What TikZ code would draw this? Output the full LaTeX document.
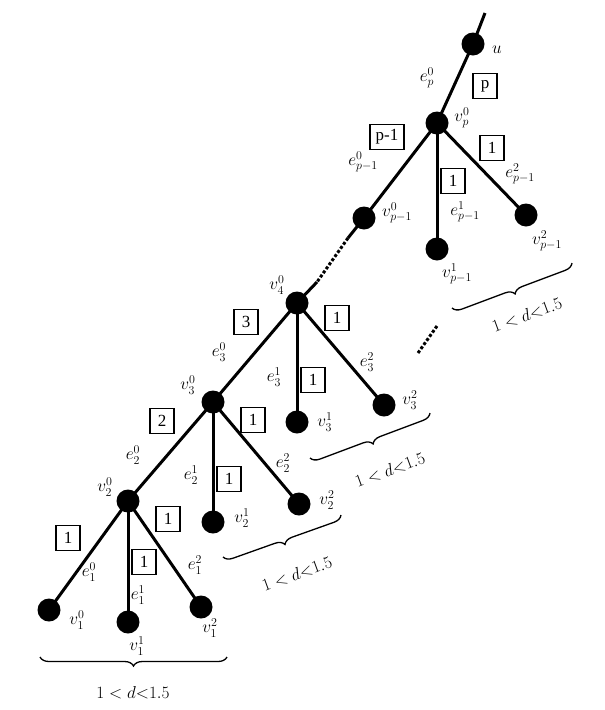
\documentclass[tikz,border=0pt]{standalone}
\usepackage{fontspec}
\setmainfont{Liberation Serif}
\usetikzlibrary{decorations.pathreplacing}
\begin{document}
\begin{tikzpicture}[x=1pt,y=-1pt,
  dot/.style={circle,fill=black,inner sep=0pt,minimum size=23pt},
  edge/.style={line width=3pt},
  wt/.style={draw,line width=1.3pt,inner sep=0pt,minimum width=24pt,minimum height=25pt,font=\fontsize{17}{17}\selectfont},
  wtw/.style={wt,minimum width=34pt},
  lab/.style={font=\fontsize{17.28}{20}\selectfont,inner sep=0pt},
  br/.style={decorate,decoration={brace,mirror,amplitude=9pt},line width=1.3pt},
  dl/.style={font=\fontsize{17.28}{20}\selectfont,inner sep=0pt}]
\useasboundingbox (0,0) rectangle (605,710);
% nodes
\coordinate (top) at (485,13);
\node[dot] (u) at (473,44) {};
\node[dot] (vp) at (437,123) {};
\node[dot] (vq0) at (364,218) {};
\node[dot] (vq1) at (437,249) {};
\node[dot] (vq2) at (526,215) {};
\node[dot] (v4) at (297,303) {};
\node[dot] (v3) at (213,402) {};
\node[dot] (v31) at (297,422) {};
\node[dot] (v32) at (384,405) {};
\node[dot] (v2) at (128,501) {};
\node[dot] (v21) at (213,522) {};
\node[dot] (v22) at (299,504) {};
\node[dot] (v10) at (49,610) {};
\node[dot] (v11) at (128,622) {};
\node[dot] (v12) at (201,607) {};
\coordinate (da) at (348,238);
\coordinate (db) at (317,282);
\coordinate (dc) at (418,353);
\coordinate (dd) at (437,326);
% edges
\draw[edge] (top) -- (u.center) -- (vp.center);
\draw[edge] (vp.center) -- (vq0.center);
\draw[edge] (vp.center) -- (vq1.center);
\draw[edge] (vp.center) -- (vq2.center);
\draw[edge] (vq0.center) -- (da);
\draw[edge,dotted] (da) -- (db);
\draw[edge] (db) -- (v4.center);
\draw[edge,dotted] (dc) -- (dd);
\draw[edge] (v4.center) -- (v3.center);
\draw[edge] (v4.center) -- (v31.center);
\draw[edge] (v4.center) -- (v32.center);
\draw[edge] (v3.center) -- (v2.center);
\draw[edge] (v3.center) -- (v21.center);
\draw[edge] (v3.center) -- (v22.center);
\draw[edge] (v2.center) -- (v10.center);
\draw[edge] (v2.center) -- (v11.center);
\draw[edge] (v2.center) -- (v12.center);
% node labels
\node[lab] (lu) at (497,50) {$u$};
\node[lab] (lvp) at (462,118) {$v_p^0$};
\node[lab] (lq0) at (397,213) {$v_{p-1}^0$};
\node[lab] (lq1) at (457,274) {$v_{p-1}^1$};
\node[lab] (lq2) at (547,241) {$v_{p-1}^2$};
\node[lab] (l4) at (277,285) {$v_4^0$};
\node[lab] (l3) at (188,385) {$v_3^0$};
\node[lab] (l31) at (325,422) {$v_3^1$};
\node[lab] (l32) at (410,400) {$v_3^2$};
\node[lab] (l2) at (105,487) {$v_2^0$};
\node[lab] (l21) at (242,518) {$v_2^1$};
\node[lab] (l22) at (327,500) {$v_2^2$};
\node[lab] (l10) at (77,620) {$v_1^0$};
\node[lab] (l11) at (137,646) {$v_1^1$};
\node[lab] (l12) at (210,628) {$v_1^2$};
% edge labels
\node[lab] (ep) at (427,78) {$e_p^0$};
\node[lab] (eq0) at (363,162) {$e_{p-1}^0$};
\node[lab] (eq1) at (465,212) {$e_{p-1}^1$};
\node[lab] (eq2) at (520,174) {$e_{p-1}^2$};
\node[lab] (e30) at (219,352) {$e_3^0$};
\node[lab] (e31) at (274,377) {$e_3^1$};
\node[lab] (e32) at (367,362) {$e_3^2$};
\node[lab] (e20) at (133,455) {$e_2^0$};
\node[lab] (e21) at (191,475) {$e_2^1$};
\node[lab] (e22) at (283,463) {$e_2^2$};
\node[lab] (e10) at (89,572) {$e_1^0$};
\node[lab] (e11) at (138,595) {$e_1^1$};
\node[lab] (e12) at (195,565) {$e_1^2$};
% weights
\node[wt] (wp) at (485,86) {p};
\node[wtw] (wq0) at (387,137) {p-1};
\node[wt] (wq1) at (453,181) {1};
\node[wt] (wq2) at (492,148) {1};
\node[wt] (w3) at (246,322) {3};
\node[wt] (w31) at (313,380) {1};
\node[wt] (w32) at (337,318) {1};
\node[wt] (w2) at (162,421) {2};
\node[wt] (w21) at (229,479) {1};
\node[wt] (w22) at (253,420) {1};
\node[wt] (w10) at (68,538) {1};
\node[wt] (w11) at (144,562) {1};
\node[wt] (w12) at (168,519) {1};
% braces
\coordinate (b1a) at (40,657); \coordinate (b1b) at (227,657);
\coordinate (b2a) at (223,557); \coordinate (b2b) at (341,515);
\coordinate (b3a) at (310,458); \coordinate (b3b) at (430,413);
\coordinate (b4a) at (452,308); \coordinate (b4b) at (572,263);
\draw[br] (b1a) -- (b1b);
\draw[br] (b2a) -- (b2b);
\draw[br] (b3a) -- (b3b);
\draw[br] (b4a) -- (b4b);
\node[dl] (d1) at (133,693) {$1<d{<}1.5$};
\node[dl,rotate=20] (d2) at (297,574) {$1<d{<}1.5$};
\node[dl,rotate=20] (d3) at (390,470) {$1<d{<}1.5$};
\node[dl,rotate=20] (d4) at (527,315) {$1<d{<}1.5$};
\end{tikzpicture}
\end{document}
